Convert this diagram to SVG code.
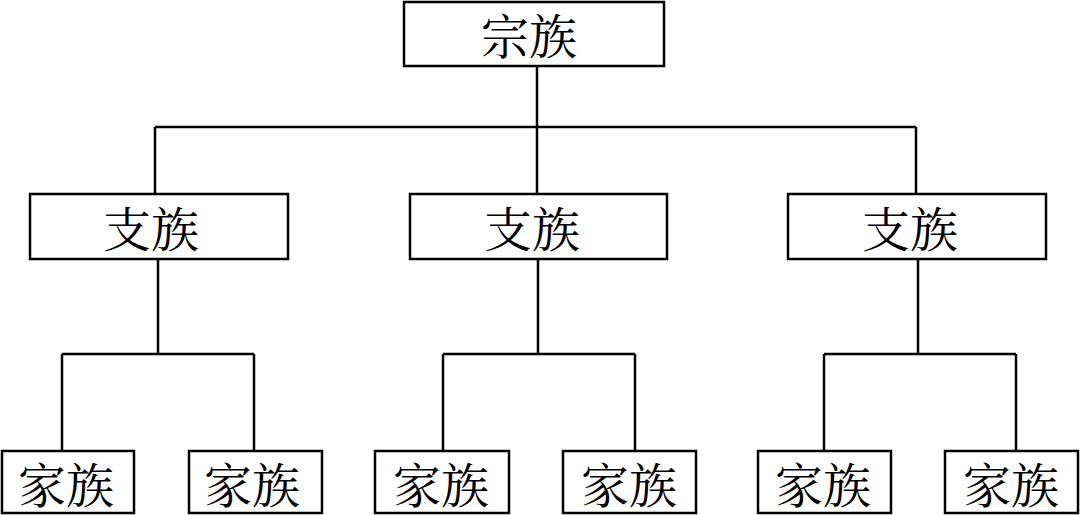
<svg xmlns="http://www.w3.org/2000/svg" width="1080" height="515" viewBox="0 0 1080 515">
<style>
rect{fill:#fff;stroke:#000;stroke-width:2.5}
line{stroke:#000;stroke-width:2.5}
text{font-family:"Noto Serif CJK SC","Noto Sans CJK SC",serif;font-size:48px;text-anchor:middle;dominant-baseline:central;fill:#000}
</style>
<rect width="1080" height="515" style="stroke:none"/>
<g id="connectors">
<line x1="537" y1="66" x2="537" y2="194"/>
<line x1="155" y1="127" x2="916" y2="127"/>
<line x1="155" y1="127" x2="155" y2="194"/>
<line x1="916" y1="127" x2="916" y2="194"/>
<line x1="158" y1="259" x2="158" y2="354"/>
<line x1="62" y1="354" x2="254" y2="354"/>
<line x1="62" y1="354" x2="62" y2="451"/>
<line x1="254" y1="354" x2="254" y2="451"/>
<line x1="538" y1="259" x2="538" y2="354"/>
<line x1="443" y1="354" x2="635" y2="354"/>
<line x1="443" y1="354" x2="443" y2="451"/>
<line x1="635" y1="354" x2="635" y2="451"/>
<line x1="918" y1="259" x2="918" y2="354"/>
<line x1="824" y1="354" x2="1016" y2="354"/>
<line x1="824" y1="354" x2="824" y2="451"/>
<line x1="1016" y1="354" x2="1016" y2="451"/>
</g>
<g id="root"><rect x="404" y="2" width="260" height="64"/><text x="529" y="33">宗族</text></g>
<g id="branch1"><rect x="30" y="194" width="258" height="65"/><text x="151" y="226">支族</text></g>
<g id="branch2"><rect x="410" y="194" width="257" height="65"/><text x="532" y="226">支族</text></g>
<g id="branch3"><rect x="788" y="194" width="258" height="65"/><text x="910" y="226">支族</text></g>
<g id="family1"><rect x="2" y="451" width="132" height="62"/><text x="66" y="482">家族</text></g>
<g id="family2"><rect x="189" y="451" width="133" height="62"/><text x="252" y="482">家族</text></g>
<g id="family3"><rect x="375" y="451" width="134" height="62"/><text x="441" y="482">家族</text></g>
<g id="family4"><rect x="563" y="451" width="133" height="62"/><text x="629" y="482">家族</text></g>
<g id="family5"><rect x="758" y="451" width="133" height="62"/><text x="823" y="482">家族</text></g>
<g id="family6"><rect x="945" y="451" width="133" height="62"/><text x="1011" y="482">家族</text></g>
</svg>
